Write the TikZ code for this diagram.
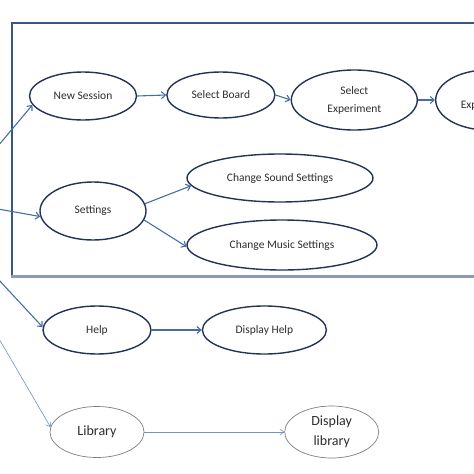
\documentclass[tikz,border=0pt]{standalone}
\usepackage{fontspec}
\setmainfont{Carlito}
\usetikzlibrary{shapes.geometric, arrows.meta, positioning}
\definecolor{caseborder}{RGB}{35,50,85}
\definecolor{casetext}{RGB}{45,45,50}
\definecolor{arrowblue}{RGB}{70,110,165}
\definecolor{frameblue}{RGB}{55,85,135}
\definecolor{framebottom}{RGB}{135,155,185}
\definecolor{libborder}{RGB}{125,125,135}
\definecolor{libarrow}{RGB}{110,150,190}
\tikzset{
  usecase/.style={
    ellipse, draw=caseborder, line width=1.4pt,
    inner sep=0pt, align=center, text=casetext,
    font=\fontsize{11.5}{18}\selectfont},
  libcase/.style={
    ellipse, draw=libborder, line width=0.7pt,
    inner sep=0pt, align=center, text=casetext,
    font=\fontsize{14}{20}\selectfont},
  arrow/.style={-{Straight Barb[length=4pt,width=7pt]}, line width=1.1pt,
                color=arrowblue},
  libarrow/.style={-{Straight Barb[length=4pt,width=6pt]}, line width=0.6pt,
                   color=libarrow}
}
\begin{document}
\begin{tikzpicture}[x=1pt, y=-1pt]

  \useasboundingbox (0,0) rectangle (474,474);
  \clip (0,0) rectangle (474,474);

  %% System frame
  \draw[frameblue, line width=1.3pt] (12,275) -- (12,23) -- (490,23);
  \draw[framebottom, line width=3pt] (11,276) -- (490,276);

  %% Row 1: new session
  \node[usecase, minimum width=107pt, minimum height=48pt] at (83,96)
    (newsess) {New Session};
  \node[usecase, minimum width=108pt, minimum height=46pt,
        right=29pt of newsess, yshift=1pt] (selboard) {Select Board};
  \node[usecase, minimum width=126pt, minimum height=60pt,
        right=15pt of selboard, yshift=-5pt] (selexp) {Select\\Experiment};
  \node[usecase, minimum width=104pt, minimum height=60pt,
        right=17pt of selexp] (runexp) {\mbox{}\\Experiment};

  %% Row 2: settings
  \node[usecase, minimum width=106pt, minimum height=58pt] at (93,211)
    (settings) {Settings};
  \node[usecase, minimum width=186pt, minimum height=48pt] at (280,178)
    (sound) {Change Sound Settings};
  \node[usecase, minimum width=190pt, minimum height=50pt] at (282,245)
    (music) {Change Music Settings};

  %% Row 3: help
  \node[usecase, minimum width=108pt, minimum height=48pt] at (97,330)
    (help) {Help};
  \node[usecase, minimum width=124pt, minimum height=48pt,
        right=50pt of help] (disphelp) {Display Help};

  %% Row 4: library
  \node[libcase, minimum width=94pt, minimum height=51pt] at (97,432)
    (library) {Library};
  \node[libcase, minimum width=94pt, minimum height=52pt,
        right=140pt of library] (displib) {Display\\library};

  %% Actor links (actor outside the picture)
  \coordinate (actsess) at (-2,146);
  \coordinate (actset)  at (-2,209);
  \coordinate (acthelp) at (-2,279);
  \coordinate (actlib)  at (-2,337);

  \draw[arrow]    (actsess) -- (newsess.190);
  \draw[arrow]    (actset)  -- (settings.186);
  \draw[arrow]    (acthelp) -- (help.177);
  \draw[libarrow] (actlib)  -- (library.174);

  %% Arrows: flow
  \draw[arrow] (newsess.east)  -- (selboard.west);
  \draw[arrow] (selboard.east) -- (selexp.west);
  \draw[arrow] (selexp.east)   -- (runexp.west);
  \draw[arrow] (settings.8)    -- (sound.185);
  \draw[arrow] (settings.350)  -- (music.181);
  \draw[arrow] (help.east)     -- (disphelp.west);
  \draw[libarrow] (library.east) -- (displib.west);

\end{tikzpicture}
\end{document}
